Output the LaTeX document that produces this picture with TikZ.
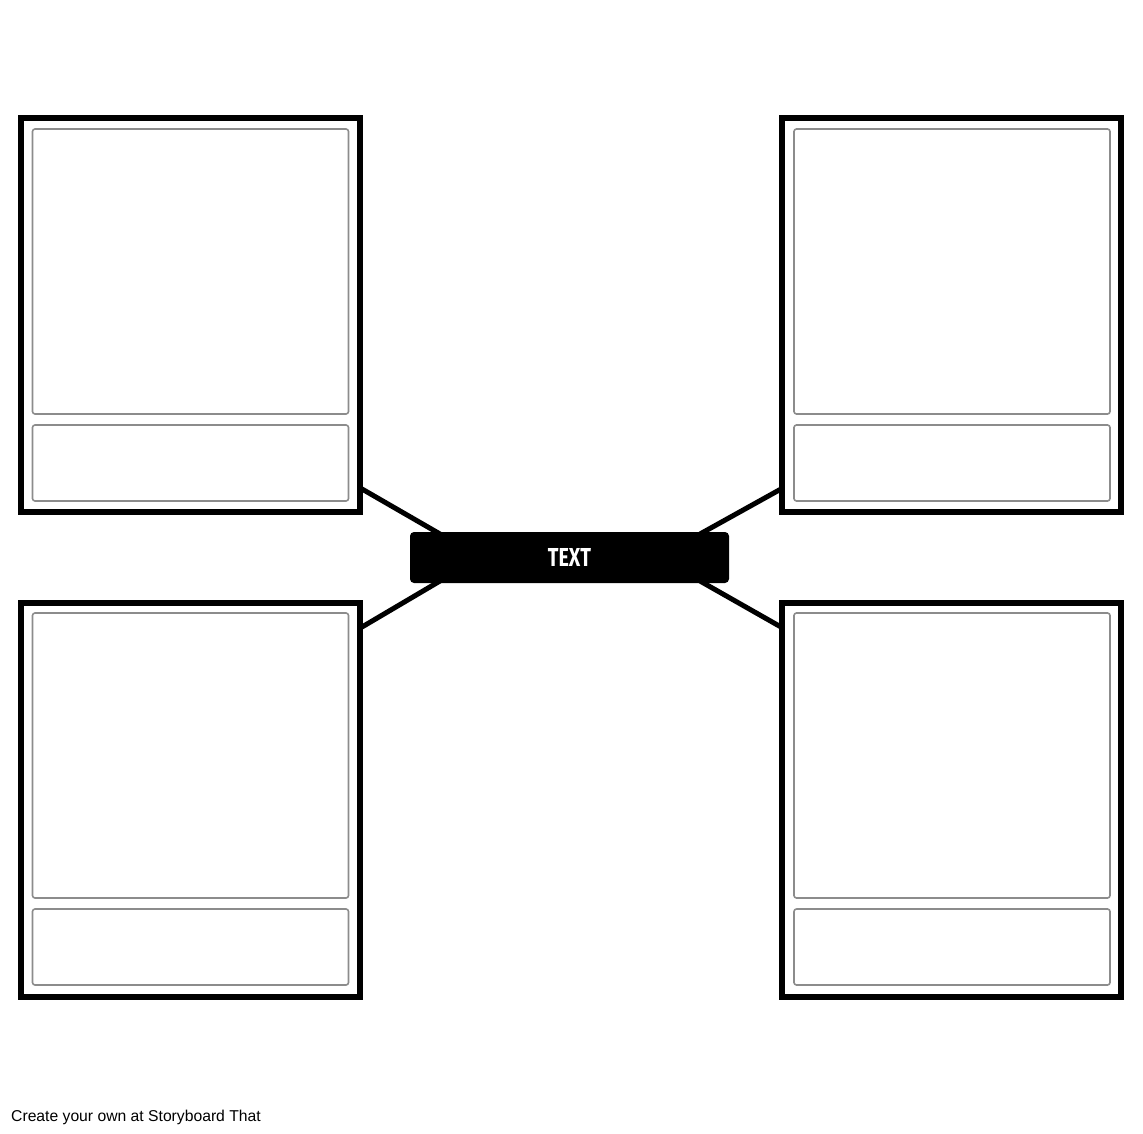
\documentclass[tikz,border=0pt]{standalone}
\usepackage{fontspec}
\setmainfont{Liberation Sans}
\newfontfamily\titlefont{Fira Sans}
\begin{document}
\begin{tikzpicture}[x=1pt,y=-1pt,
  frame/.style={draw=black,line width=6pt,minimum width=339.5pt,minimum height=393.5pt,inner sep=0pt,outer sep=0pt},
  bigpanel/.style={draw=black!45,line width=1.6pt,rounded corners=2.5pt,minimum width=316pt,minimum height=285pt,inner sep=0pt,outer sep=0pt},
  smallpanel/.style={draw=black!45,line width=1.6pt,rounded corners=2.5pt,minimum width=316pt,minimum height=76pt,inner sep=0pt,outer sep=0pt},
  connector/.style={draw=black,line width=5pt},
  centerbox/.style={fill=black,rounded corners=4pt,minimum width=319pt,minimum height=51pt,inner sep=0pt,text=white}
]
\useasboundingbox (0,0) rectangle (1143,1134);
% frames
\node[frame] (f1) at (190.25,315.25) {};
\node[frame] (f2) at (951.5,315.25) {};
\node[frame] (f3) at (190.25,800) {};
\node[frame] (f4) at (951.5,800) {};
% inner panels
\node[bigpanel] (p1) at (190.5,271.5) {};
\node[smallpanel] (q1) at (190.5,463) {};
\node[bigpanel] (p2) at (952,271.5) {};
\node[smallpanel] (q2) at (952,463) {};
\node[bigpanel] (p3) at (190.5,755.5) {};
\node[smallpanel] (q3) at (190.5,947) {};
\node[bigpanel] (p4) at (952,755.5) {};
\node[smallpanel] (q4) at (952,947) {};
% connector anchor points
\coordinate (a1) at (362,489);
\coordinate (a2) at (781,489);
\coordinate (a3) at (362,627);
\coordinate (a4) at (781,627);
\coordinate (b1) at (440,534);
\coordinate (b2) at (700,534);
\coordinate (b3) at (440,581);
\coordinate (b4) at (700,581);
\draw[connector] (a1) -- (b1);
\draw[connector] (a2) -- (b2);
\draw[connector] (a3) -- (b3);
\draw[connector] (a4) -- (b4);
% center
\node[centerbox] (c) at (569.5,557.5) {\titlefont\bfseries\fontsize{26}{26}\selectfont\scalebox{0.76}[1]{TEXT}};
% footer
\node[anchor=base west,inner sep=0pt] (footer) at (11,1121) {\fontsize{15.7}{16}\selectfont Create your own at Storyboard That};
\end{tikzpicture}
\end{document}
